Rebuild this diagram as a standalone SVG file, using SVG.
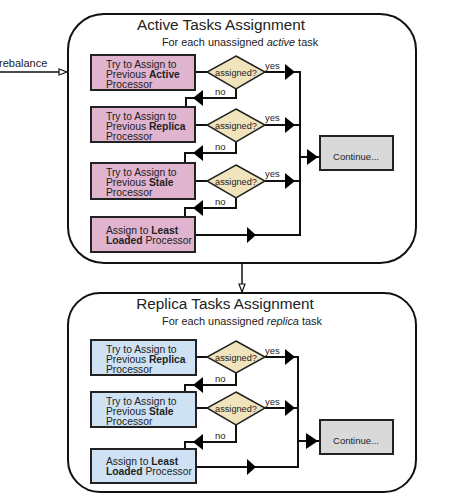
<svg xmlns="http://www.w3.org/2000/svg" width="474" height="499" viewBox="0 0 474 499">
<defs>
<style>
text{font-family:"Liberation Sans",Arial,sans-serif;fill:#222}
.cont{fill:#fff;stroke:#111;stroke-width:2}
.title{font-size:15.3px;text-anchor:middle}
.sub{font-size:10.9px;text-anchor:middle}
.pink{fill:#e0b3cf;stroke:#222;stroke-width:2}
.blue{fill:#cfe2f3;stroke:#222;stroke-width:2}
.dia{fill:#f1e4bd;stroke:#222;stroke-width:1.5}
.gray{fill:#d9d9d9;stroke:#222;stroke-width:2}
.bt{font-size:10.3px}
.dt{font-size:9.2px;text-anchor:middle}
.ct{font-size:9.5px;text-anchor:middle}
.lbl{font-size:9.5px}
.ln{fill:none;stroke:#111;stroke-width:2}
.thin{fill:none;stroke:#111;stroke-width:1.5}
.ah{fill:#000}
</style>
<marker id="open" markerWidth="10" markerHeight="8" refX="9" refY="4" orient="auto" markerUnits="userSpaceOnUse">
<path d="M1,1 L9,4 L1,7 Z" fill="#fff" stroke="#111" stroke-width="1.2"/>
</marker>
</defs>

<g id="activeContainer">
<rect class="cont" x="68" y="14" width="348" height="249" rx="36"/>
<text class="title" x="221" y="30">Active Tasks Assignment</text>
<text class="sub" x="240" y="46">For each unassigned <tspan font-style="italic">active</tspan> task</text>
</g>

<g id="replicaContainer">
<rect class="cont" x="68" y="293" width="348" height="199" rx="32"/>
<text class="title" x="225" y="309">Replica Tasks Assignment</text>
<text class="sub" x="242" y="325">For each unassigned <tspan font-style="italic">replica</tspan> task</text>
</g>

<g id="connectors">
<line class="thin" x1="0" y1="72" x2="67" y2="72" marker-end="url(#open)"/>
<line class="thin" x1="242" y1="263" x2="242" y2="292" marker-end="url(#open)"/>

<!-- active flow -->
<line class="ln" x1="195" y1="72" x2="207" y2="72"/>
<line class="ln" x1="195" y1="125" x2="207" y2="125"/>
<line class="ln" x1="195" y1="181" x2="207" y2="181"/>
<polyline class="ln" points="265,72 300,72 300,235 196,235"/>
<line class="ln" x1="265" y1="125" x2="300" y2="125"/>
<line class="ln" x1="265" y1="181" x2="300" y2="181"/>
<line class="ln" x1="300" y1="157" x2="320" y2="157"/>
<polyline class="ln" points="236,89 236,98 186,98 186,107"/>
<polyline class="ln" points="236,142 236,153 185,153 185,163"/>
<polyline class="ln" points="236,198 236,208 185,208 185,217"/>
<path class="ah" d="M285,64 L295,72 L285,80 Z"/>
<path class="ah" d="M285,117 L295,125 L285,133 Z"/>
<path class="ah" d="M285,173 L295,181 L285,189 Z"/>
<path class="ah" d="M307,149 L318,157 L307,165 Z"/>
<path class="ah" d="M247,227 L256,235 L247,243 Z"/>
<path class="ah" d="M203,90 L193,98 L203,106 Z"/>
<path class="ah" d="M203,145 L193,153 L203,161 Z"/>
<path class="ah" d="M203,200 L193,208 L203,216 Z"/>
<text class="lbl" x="265" y="69">yes</text>
<text class="lbl" x="265" y="121">yes</text>
<text class="lbl" x="265" y="177">yes</text>
<text class="lbl" x="215" y="95">no</text>
<text class="lbl" x="215" y="150">no</text>
<text class="lbl" x="215" y="205">no</text>

<!-- replica flow -->
<line class="ln" x1="196" y1="357" x2="207" y2="357"/>
<line class="ln" x1="196" y1="408" x2="207" y2="408"/>
<polyline class="ln" points="265,357 298,357 298,467 196,467"/>
<line class="ln" x1="265" y1="408" x2="298" y2="408"/>
<line class="ln" x1="298" y1="441" x2="320" y2="441"/>
<polyline class="ln" points="236,373 236,385 185,385 185,392"/>
<polyline class="ln" points="236,425 236,442 185,442 185,449"/>
<path class="ah" d="M285,349 L295,357 L285,365 Z"/>
<path class="ah" d="M285,400 L295,408 L285,416 Z"/>
<path class="ah" d="M306,433 L318,441 L306,449 Z"/>
<path class="ah" d="M247,459 L256,467 L247,475 Z"/>
<path class="ah" d="M203,377 L193,385 L203,393 Z"/>
<path class="ah" d="M203,434 L193,442 L203,450 Z"/>
<text class="lbl" x="265" y="354">yes</text>
<text class="lbl" x="265" y="405">yes</text>
<text class="lbl" x="215" y="382">no</text>
<text class="lbl" x="215" y="439">no</text>
</g>

<text x="-1" y="67" font-size="11">rebalance</text>

<g id="a1"><rect class="pink" x="91" y="55" width="104" height="35"/>
<text class="bt" x="106" y="68">Try to Assign to</text><text class="bt" x="106" y="78">Previous <tspan font-weight="bold">Active</tspan></text><text class="bt" x="106" y="88">Processor</text></g>
<g id="a2"><rect class="pink" x="91" y="107" width="104" height="35"/>
<text class="bt" x="106" y="120">Try to Assign to</text><text class="bt" x="106" y="130">Previous <tspan font-weight="bold">Replica</tspan></text><text class="bt" x="106" y="140">Processor</text></g>
<g id="a3"><rect class="pink" x="91" y="163" width="104" height="36"/>
<text class="bt" x="106" y="176">Try to Assign to</text><text class="bt" x="106" y="186">Previous <tspan font-weight="bold">Stale</tspan></text><text class="bt" x="106" y="196">Processor</text></g>
<g id="a4"><rect class="pink" x="91" y="217" width="104" height="35"/>
<text class="bt" x="106" y="234">Assign to <tspan font-weight="bold">Least</tspan></text><text class="bt" x="106" y="244"><tspan font-weight="bold">Loaded</tspan> Processor</text></g>

<g id="ad1"><path class="dia" d="M236,56 L265,72 L236,89 L207,72 Z"/><text class="dt" x="236" y="75.5">assigned?</text></g>
<g id="ad2"><path class="dia" d="M236,109 L265,125 L236,142 L207,125 Z"/><text class="dt" x="236" y="128.5">assigned?</text></g>
<g id="ad3"><path class="dia" d="M236,165 L265,181 L236,198 L207,181 Z"/><text class="dt" x="236" y="184.5">assigned?</text></g>
<g id="acont"><rect class="gray" x="320" y="136" width="73" height="34"/><text class="ct" x="356" y="160">Continue...</text></g>

<g id="r1"><rect class="blue" x="91" y="340" width="105" height="35"/>
<text class="bt" x="106" y="353">Try to Assign to</text><text class="bt" x="106" y="363">Previous <tspan font-weight="bold">Replica</tspan></text><text class="bt" x="106" y="373">Processor</text></g>
<g id="r2"><rect class="blue" x="91" y="392" width="105" height="35"/>
<text class="bt" x="106" y="405">Try to Assign to</text><text class="bt" x="106" y="415">Previous <tspan font-weight="bold">Stale</tspan></text><text class="bt" x="106" y="425">Processor</text></g>
<g id="r3"><rect class="blue" x="91" y="449" width="105" height="34"/>
<text class="bt" x="106" y="465">Assign to <tspan font-weight="bold">Least</tspan></text><text class="bt" x="106" y="475"><tspan font-weight="bold">Loaded</tspan> Processor</text></g>

<g id="rd1"><path class="dia" d="M236,341 L265,357 L236,373 L207,357 Z"/><text class="dt" x="236" y="360.5">assigned?</text></g>
<g id="rd2"><path class="dia" d="M236,392 L265,408 L236,425 L207,408 Z"/><text class="dt" x="236" y="411.5">assigned?</text></g>
<g id="rcont"><rect class="gray" x="320" y="420" width="73" height="34"/><text class="ct" x="356" y="444">Continue...</text></g>
</svg>
